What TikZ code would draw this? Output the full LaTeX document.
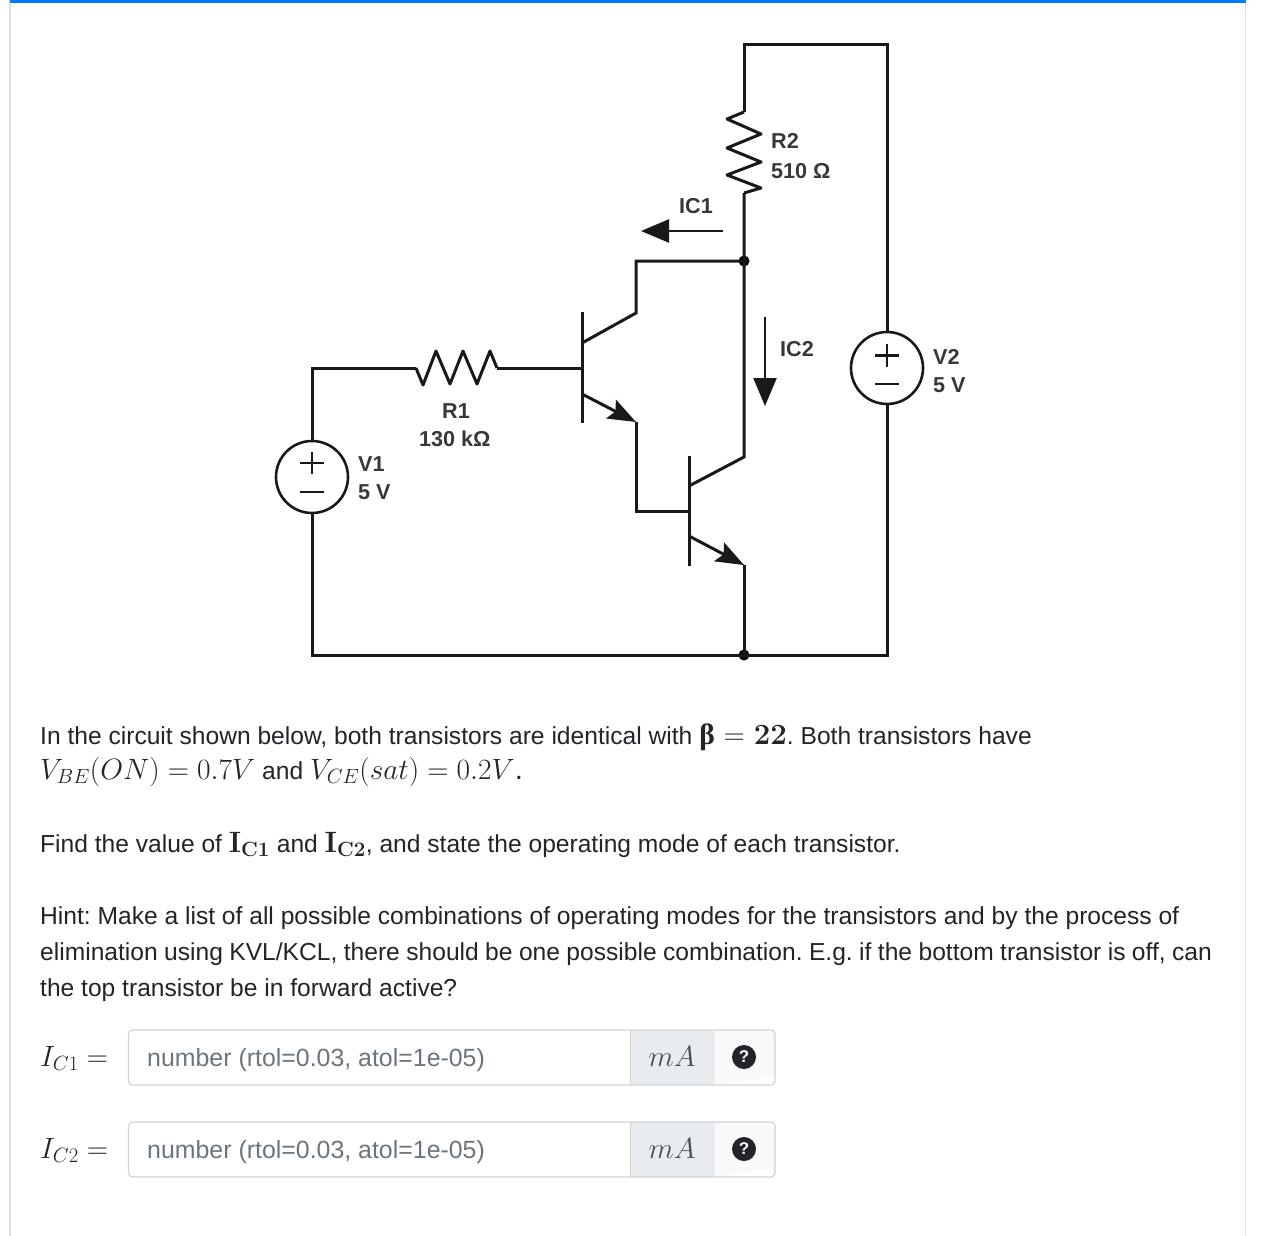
\RequirePackage{fix-cm}
\documentclass[tikz,border=0pt]{standalone}
\usepackage{amsmath}
\usepackage[no-math]{fontspec}
\setmainfont{Liberation Sans}
\newfontfamily\betafont{Liberation Serif}
\usetikzlibrary{arrows.meta}
\definecolor{txt}{HTML}{212529}
\definecolor{bluebar}{HTML}{007BFF}
\definecolor{cardb}{HTML}{DFDFDF}
\definecolor{inb}{HTML}{CED4DA}
\definecolor{addon}{HTML}{E9ECEF}
\definecolor{helpbg}{HTML}{F8F9FA}
\definecolor{ph}{HTML}{6C757D}
\newcommand{\mathsz}{\fontsize{29.4}{34}\selectfont}
\tikzset{
  x=1pt,y=-1pt,
  wire/.style={line width=3pt,black!90,line join=miter},
  thinwire/.style={line width=2.4pt,black!90},
  source/.style={circle,draw=black!90,line width=2.6pt,minimum size=72pt,inner sep=0pt,fill=white},
  junction/.style={circle,fill=black,inner sep=0pt,minimum size=11pt},
  cktlabel/.style={anchor=base west,inner sep=0pt,font=\bfseries\fontsize{21.6}{26}\selectfont,text=black!78},
  para/.style={anchor=base west,inner sep=0pt,text=txt,font=\frenchspacing\fontsize{24.6}{30}\selectfont},
  mathlabel/.style={anchor=base west,inner sep=0pt,text=txt,font=\mathsz},
  placeholder/.style={anchor=base west,inner sep=0pt,text=ph,font=\fontsize{24.9}{30}\selectfont},
  unitlabel/.style={anchor=base,inner sep=0pt,text=black!70,font=\mathsz},
  helpdot/.style={circle,fill=txt,minimum size=24pt,inner sep=0pt,text=white,font=\bfseries\fontsize{17}{20}\selectfont},
  emitter/.style={wire,-{Stealth[length=28pt,width=21pt,inset=5pt]}},
  currentarrow/.style={thinwire,-{Triangle[length=28pt,width=23pt]}},
}
\begin{document}
\begin{tikzpicture}
\useasboundingbox (0,0) rectangle (1274,1236);
\fill[white] (0,0) rectangle (1274,1236);
% card
\draw[cardb,line width=1.4pt] (10,0) -- (10,1236);
\draw[cardb,line width=1.4pt] (1245.5,0) -- (1245.5,1236);
\fill[bluebar] (9.5,0) rectangle (1246,3);

% coordinates
\coordinate (TL) at (744,45);
\coordinate (TR) at (887,45);
\coordinate (BL) at (312,655);
\coordinate (BR) at (887,655);
\coordinate (R2a) at (744,112);
\coordinate (R2b) at (744,193);
\coordinate (R1a) at (416,368);
\coordinate (R1b) at (497,368);
\coordinate (B1) at (582,368);
\coordinate (C1a) at (582,343);
\coordinate (C1b) at (636,313);
\coordinate (C1c) at (636,261);
\coordinate (E1a) at (582,394);
\coordinate (E1b) at (636,422);
\coordinate (B2) at (689,511);
\coordinate (B2c) at (636,511);
\coordinate (C2a) at (689,486);
\coordinate (C2b) at (744,457);
\coordinate (E2a) at (689,536);
\coordinate (E2b) at (744,565);
\coordinate (LT) at (312,368);
\coordinate (A1s) at (723,231);
\coordinate (A1e) at (641,231);
\coordinate (A2s) at (765,317);
\coordinate (A2e) at (765,406);
\coordinate (Bar1t) at (582,312);
\coordinate (Bar1b) at (582,423);
\coordinate (Bar2t) at (689,456);
\coordinate (Bar2b) at (689,566);

\node[junction] (N1) at (744,261) {};
\node[junction] (N2) at (744,655) {};

% wires
\draw[wire] (R2a) -- (TL) -- (TR) -- (BR) -- (BL) -- (LT) -- (R1a);
\draw[wire,line join=round] (R2a) -- ++(-17,7) -- ++(34,15) -- ++(-34,14) -- ++(34,14) -- ++(-34,13) -- ++(34,13) -- (R2b);
\draw[wire] (R2b) -- (N1.center) -- (C1c) -- (C1b) -- (C1a);
\draw[wire] (N1.center) -- (C2b) -- (C2a);
\draw[wire,line join=round] (R1a) -- ++(7,17) -- ++(13,-34) -- ++(14,33) -- ++(13,-33) -- ++(14,33) -- ++(13,-33) -- (R1b);
\draw[wire] (R1b) -- (B1);
\draw[wire] (Bar1t) -- (Bar1b);
\draw[wire] (Bar2t) -- (Bar2b);
\draw[emitter] (E1a) -- (E1b);
\draw[wire] (E1b) -- (B2c) -- (B2);
\draw[emitter] (E2a) -- (E2b);
\draw[wire] (E2b) -- (N2.center);

% sources
\node[source] (V1) at (312,477) {};
\node[source] (V2) at (887,368) {};
\draw[thinwire] (312,452) -- (312,474) (300,463) -- (324,463);
\draw[thinwire] (300,492) -- (324,492);
\draw[thinwire] (887,344) -- (887,367) (875,355.5) -- (899,355.5);
\draw[thinwire] (875,384) -- (899,384);

% current arrows
\draw[currentarrow] (A1s) -- (A1e);
\draw[currentarrow] (A2s) -- (A2e);

% circuit labels
\node[cktlabel] (lR2) at (771,149) {R2};
\node[cktlabel] (lR2v) at (771,178) {510 Ω};
\node[cktlabel] (lIC1) at (679,213) {IC1};
\node[cktlabel] (lIC2) at (780,356) {IC2};
\node[cktlabel] (lV2) at (933,364) {V2};
\node[cktlabel] (lV2v) at (933,392) {5 V};
\node[cktlabel] (lR1) at (442,418) {R1};
\node[cktlabel] (lR1v) at (419,446) {130 kΩ};
\node[cktlabel] (lV1) at (358,471) {V1};
\node[cktlabel] (lV1v) at (358,499) {5 V};

% text
\node[para] (p1) at (40,744) {In the circuit shown below, both transistors are identical with {\mathsz{\betafont\bfseries β}\kern 9pt$=$\kern 9pt\boldmath$\mathbf{22}$}. Both transistors have};
\node[para] (p2) at (40,779) {{\mathsz$V_{BE}(ON)=0.7V$} and {\mathsz$V_{CE}(sat)=0.2V$.}};
\node[para] (p3) at (40,852) {Find the value of {\mathsz$\mathbf{I_{C1}}$} and {\mathsz$\mathbf{I_{C2}}$}, and state the operating mode of each transistor.};
\node[para] (p4) at (40,924) {Hint: Make a list of all possible combinations of operating modes for the transistors and by the process of};
\node[para] (p5) at (40,960) {\spaceskip=6.43pt elimination using KVL/KCL, there should be one possible combination. E.g. if the bottom transistor is off, can};
\node[para] (p6) at (40,996) {the top transistor be in forward active?};

% input groups
\foreach \yy/\nn in {0/1,92/2}{
  \begin{scope}[yshift=-\yy pt]
    \fill[addon] (630,1030) rectangle (714,1085);
    \fill[helpbg] (714,1030) -- (771,1030) arc[start angle=90,end angle=0,radius=4] -- (775,1081) arc[start angle=0,end angle=-90,radius=4] -- (714,1085) -- cycle;
    \draw[inb,line width=1.2pt,rounded corners=4pt] (128.5,1030) rectangle (775,1085);
    \draw[inb,line width=1.2pt] (630.5,1030) -- (630.5,1085);
    \draw[helpbg!70!inb,line width=1pt] (714,1030) -- (714,1085);
    \node[mathlabel] (lab\nn) at (40,1066) {$I_{C\nn}=$};
    \node[placeholder] (ph\nn) at (147,1066) {number (rtol=0.03, atol=1e-05)};
    \node[unitlabel] (u\nn) at (672,1066) {$mA$};
    \node[helpdot] (q\nn) at (744,1057) {?};
  \end{scope}
}
\end{tikzpicture}
\end{document}
